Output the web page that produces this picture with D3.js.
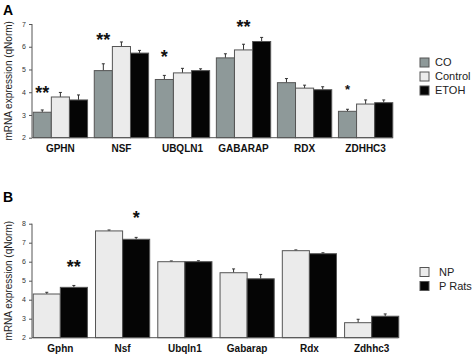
<!DOCTYPE html>
<html>
<head>
<meta charset="utf-8">
<script src="https://cdn.jsdelivr.net/npm/d3@7"></script>
<style>
  body { margin: 0; background: #fff; }
  svg { display: block; font-family: Arial, "Liberation Sans", sans-serif; }
</style>
</head>
<body>
<div id="chart"></div>
<script>
// ---- panel A data ----
const genesA = ["GPHN", "NSF", "UBQLN1", "GABARAP", "RDX", "ZDHHC3"];
const groupsA = ["CO", "Control", "ETOH"];
const meanCO = [3.12, 4.95, 4.56, 5.51, 4.42, 3.16];
const meanControl = [3.79, 6.01, 4.85, 5.86, 4.18, 3.48];
const meanETOH = [3.66, 5.72, 4.95, 6.23, 4.11, 3.54];
const errCO = [0.1, 0.3, 0.18, 0.18, 0.18, 0.09];
const errControl = [0.2, 0.2, 0.2, 0.25, 0.13, 0.18];
const errETOH = [0.22, 0.12, 0.08, 0.18, 0.13, 0.12];
// significance: gene, bar group, label, y value
const starsA = [
  ["GPHN", "CO", "**", 4.2],
  ["NSF", "CO", "**", 6.52],
  ["UBQLN1", "CO", "*", 5.79],
  ["GABARAP", "Control", "**", 7.1],
  ["ZDHHC3", "CO", "*", 4.25]
];
const ticksA = [2, 3, 4, 5, 6, 7];

// ---- panel B data ----
const genesB = ["Gphn", "Nsf", "Ubqln1", "Gabarap", "Rdx", "Zdhhc3"];
const groupsB = ["NP", "P Rats"];
const meanNP = [4.30, 7.62, 6.0, 5.42, 6.58, 2.79];
const meanP = [4.65, 7.18, 6.0, 5.1, 6.42, 3.13];
const errNP = [0.09, 0.05, 0.04, 0.2, 0.04, 0.18];
const errP = [0.1, 0.1, 0.05, 0.23, 0.05, 0.12];
const starsB = [
  ["Gphn", "P Rats", "**", 6.0],
  ["Nsf", "P Rats", "*", 8.58]
];
const ticksB = [2, 3, 4, 5, 6, 7, 8];

const colors = {
  "CO": "#8e9999", "Control": "#ebebeb", "ETOH": "#050505",
  "NP": "#ebebeb", "P Rats": "#050505"
};

const svg = d3.select("#chart").append("svg")
  .attr("width", 474)
  .attr("height", 354);

function drawPanel(opt) {
  let g = svg.append("g");

  let x = d3.scaleBand().domain(opt.genes).range(opt.xRange)
    .paddingInner(opt.padIn).paddingOuter(opt.padOut);
  let x1 = d3.scaleBand().domain(opt.groups).range([0, x.bandwidth()]);
  let y = d3.scaleLinear().domain(opt.yDomain).range(opt.yRange);

  // table for bars
  let rows = [];
  opt.genes.forEach((gene, i) => {
    opt.groups.forEach((grp, j) => {
      rows.push({gene: gene, group: grp, v: opt.means[j][i], e: opt.errs[j][i]});
    });
  });

  // error bars (drawn behind bars)
  let eb = g.append("g").attr("stroke", "#333").attr("stroke-width", 1);
  rows.forEach(d => {
    let cx = x(d.gene) + x1(d.group) + x1.bandwidth() / 2;
    eb.append("line").attr("x1", cx).attr("x2", cx)
      .attr("y1", y(d.v)).attr("y2", y(d.v + d.e));
    eb.append("line").attr("x1", cx - 1.5).attr("x2", cx + 1.5)
      .attr("y1", y(d.v + d.e)).attr("y2", y(d.v + d.e));
  });

  g.append("g").selectAll("rect")
    .data(rows)
    .join("rect")
    .attr("x", d => x(d.gene) + x1(d.group))
    .attr("y", d => y(d.v))
    .attr("width", x1.bandwidth())
    .attr("height", d => y(opt.yDomain[0]) - y(d.v))
    .attr("fill", d => colors[d.group])
    .attr("stroke", "#555")
    .attr("stroke-width", 1);

  // y axis
  let yAxis = g.append("g")
    .attr("transform", `translate(${opt.xRange[0]},0)`)
    .call(d3.axisLeft(y).tickValues(opt.ticks).tickSize(3).tickPadding(3).tickFormat(d3.format("d")));
  yAxis.selectAll("text").attr("font-size", 7).attr("fill", "#333");
  yAxis.selectAll("line, path").attr("stroke", "#555");
  yAxis.select(".domain").attr("d", `M0,${y(opt.yDomain[1])}V${y(opt.yDomain[0])}`);

  // x baseline
  g.append("line")
    .attr("x1", opt.xRange[0]).attr("x2", opt.xEnd)
    .attr("y1", y(opt.yDomain[0])).attr("y2", y(opt.yDomain[0]))
    .attr("stroke", "#555");

  // category labels
  g.append("g").selectAll("text")
    .data(opt.genes)
    .join("text")
    .attr("x", d => x(d) + x.bandwidth() / 2)
    .attr("y", y(opt.yDomain[0]) + 14)
    .attr("text-anchor", "middle")
    .attr("font-size", 10)
    .attr("font-weight", "bold")
    .attr("fill", "#111")
    .text(d => d);

  // y title
  let midY = (opt.yRange[0] + opt.yRange[1]) / 2;
  g.append("text")
    .attr("transform", `translate(12,${midY}) rotate(-90)`)
    .attr("text-anchor", "middle")
    .attr("font-size", 10)
    .attr("fill", "#222")
    .text("mRNA expression (qNorm)");

  // stars
  g.append("g").selectAll("text")
    .data(opt.stars)
    .join("text")
    .attr("x", d => x(d[0]) + x1(d[1]) + x1.bandwidth() / 2)
    .attr("y", d => y(d[3]))
    .attr("dy", d => d[0] === "ZDHHC3" ? "0.6em" : "0.62em")
    .attr("text-anchor", "middle")
    .attr("font-size", d => d[0] === "ZDHHC3" ? 13 : 18)
    .attr("font-weight", "bold")
    .attr("fill", "#111")
    .text(d => d[2]);

  // panel letter
  g.append("text")
    .attr("x", 3).attr("y", opt.letterY)
    .attr("font-size", 14)
    .attr("font-weight", "bold")
    .text(opt.letter);

  // legend
  let lg = g.append("g");
  opt.groups.forEach((grp, i) => {
    let yy = opt.legendY + i * 14;
    lg.append("rect")
      .attr("x", 420).attr("y", yy - 4.5)
      .attr("width", 9).attr("height", 9)
      .attr("fill", colors[grp])
      .attr("stroke", "#555");
    lg.append("text")
      .attr("x", opt.legendTextX).attr("y", yy)
      .attr("dy", "0.35em")
      .attr("font-size", 11)
      .attr("fill", "#222")
      .text(grp);
  });
}

drawPanel({
  genes: genesA, groups: groupsA,
  means: [meanCO, meanControl, meanETOH],
  errs: [errCO, errControl, errETOH],
  stars: starsA, ticks: ticksA,
  yDomain: [2, 7], yRange: [137.7, 24],
  xRange: [32, 394], xEnd: 393, padIn: 0.11, padOut: 0.02,
  letter: "A", letterY: 15, legendY: 62.5, legendTextX: 435
});

drawPanel({
  genes: genesB, groups: groupsB,
  means: [meanNP, meanP],
  errs: [errNP, errP],
  stars: starsB, ticks: ticksB,
  yDomain: [2, 8], yRange: [337.7, 223.7],
  xRange: [32, 400], xEnd: 398, padIn: 0.13, padOut: 0.02,
  letter: "B", letterY: 202, legendY: 272, legendTextX: 439
});
</script>
</body>
</html>
